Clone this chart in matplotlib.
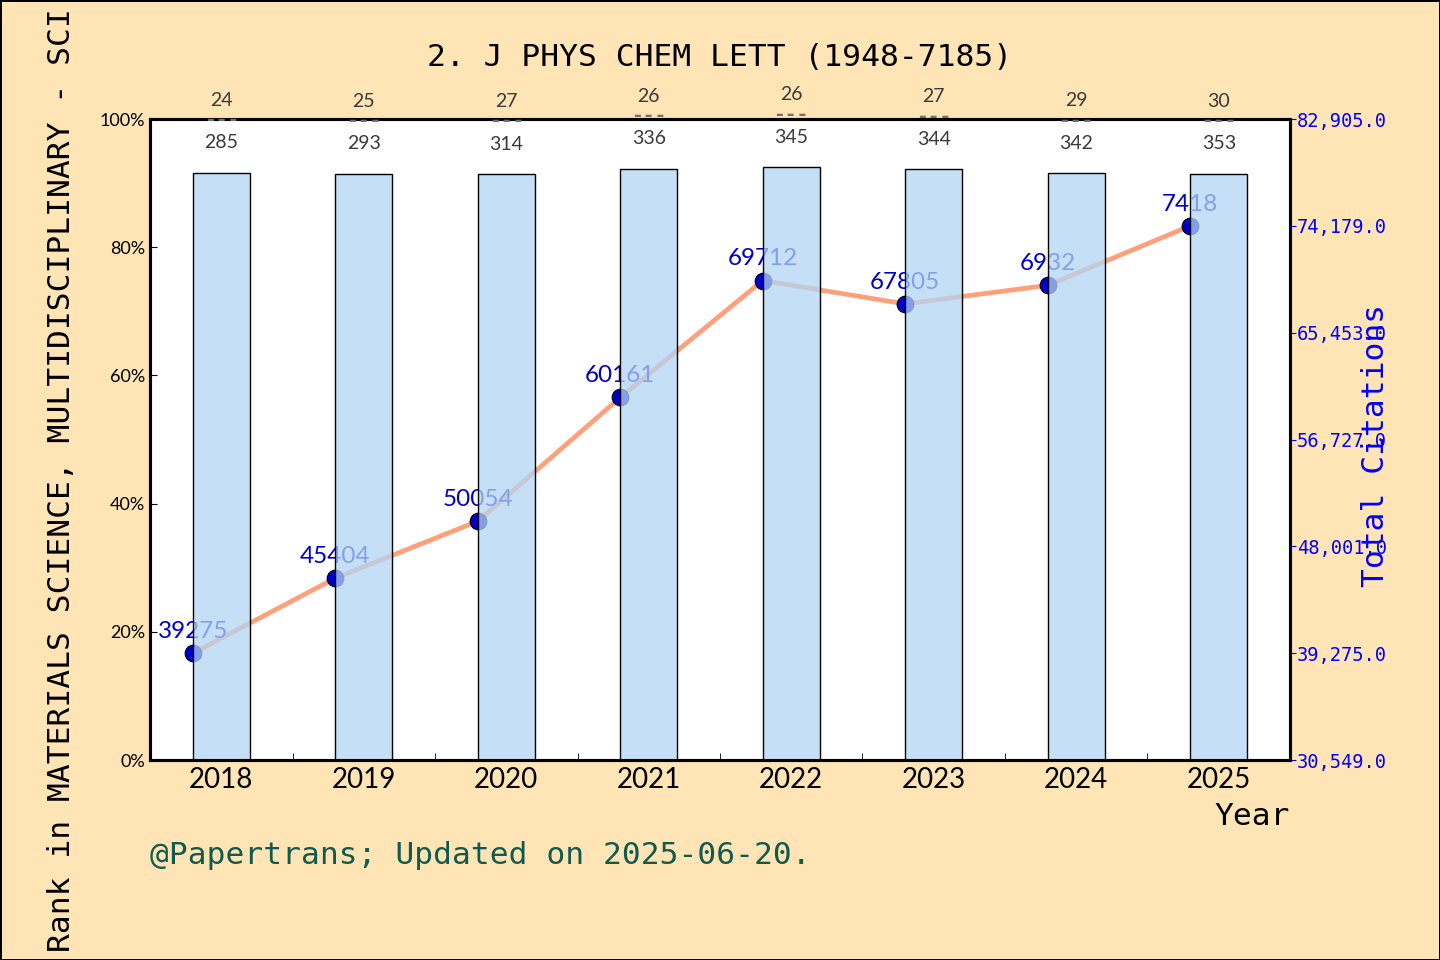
import numpy as np
import matplotlib
matplotlib.use('Agg')
import matplotlib.pyplot as plt
from matplotlib.ticker import FixedLocator, FuncFormatter

# data
years = ['2018', '2019', '2020', '2021', '2022', '2023', '2024', '2025']
rank = [24, 25, 27, 26, 26, 27, 29, 30]
total = [285, 293, 314, 336, 345, 344, 342, 353]
citations = [39275, 45404, 50054, 60161, 69712, 67805, 69320, 74180]
cite_labels = ['39275', '45404', '50054', '60161', '69712', '67805', '6932', '7418']

cite_min, cite_max = 30549, 82905

mono = 'DejaVu Sans Mono'
sans = 'Lato'
bg = '#FFE4B5'

x = np.arange(len(years))
share = [1 - r / t for r, t in zip(rank, total)]

fig = plt.figure(figsize=(14.4, 9.6), dpi=100, facecolor=bg, edgecolor='black', linewidth=2)
ax = fig.add_axes([0.1042, 0.2083, 0.7916, 0.6677])
ax2 = ax.twinx()

# line axis sits below the bar axis
ax.set_zorder(ax2.get_zorder() + 1)
ax.patch.set_visible(False)
ax2.patch.set_visible(True)
ax2.patch.set_facecolor('white')

ax2.plot(x - 0.2, citations, color='#FFA07A', lw=3.4, zorder=2)
ax2.plot(x - 0.2, citations, 'o', ms=12, mfc='#0000CD', mec='black', mew=0.8, zorder=3)
for xi, v, lab in zip(x, citations, cite_labels):
    ax2.annotate(lab, (xi - 0.2, v), xytext=(0, 8), textcoords='offset points',
                 ha='center', va='bottom', color='#0000CD', fontsize=17.5, family=sans)

ax.bar(x, share, width=0.4, color=(178/255, 214/255, 244/255, 0.75), edgecolor='black', lw=1)
for xi, s, r, t in zip(x, share, rank, total):
    ax.text(xi, s + 0.083 + 0.03, str(r), ha='center', va='center', fontsize=14,
            color='#3a3a3a', family=sans, clip_on=False)
    ax.text(xi, s + 0.083, '---', ha='center', va='center', fontsize=14, fontweight='bold',
            color='#707070', family=mono, clip_on=False)
    ax.text(xi, s + 0.083 - 0.036, str(t), ha='center', va='center', fontsize=14,
            color='#3a3a3a', family=sans, clip_on=False)

ax.set_xlim(-0.5, len(years) - 0.5)
ax.set_ylim(0, 1)
ax.set_xticks(x)
ax.set_xticklabels(years, fontsize=20, family=sans)
ax.xaxis.set_minor_locator(FixedLocator(x[:-1] + 0.5))
ax.tick_params(axis='x', which='major', length=0, pad=5)
ax.tick_params(axis='x', which='minor', direction='in', length=5)
ax.set_yticks(np.linspace(0, 1, 6))
ax.yaxis.set_major_formatter(FuncFormatter(lambda v, p: '%d%%' % round(v * 100)))
ax.tick_params(axis='y', direction='in', length=5, labelsize=13)
for lab in ax.get_yticklabels():
    lab.set_family(sans)

ax2.set_ylim(cite_min, cite_max)
ax2.set_yticks(np.linspace(cite_min, cite_max, 7))
ax2.yaxis.set_major_formatter(FuncFormatter(lambda v, p: '{:,.1f}'.format(v)))
ax2.tick_params(axis='y', colors='blue', direction='out', length=4, labelsize=13.5, pad=1)
for lab in ax2.get_yticklabels():
    lab.set_family(mono)

for a in (ax, ax2):
    for sp in a.spines.values():
        sp.set_linewidth(2.2)

fig.text(0.5, 0.94, '2. J PHYS CHEM LETT (1948-7185)', ha='center', va='center',
         fontsize=22.5, family=mono)
fig.text(0.043, 0.5, 'Rank in MATERIALS SCIENCE, MULTIDISCIPLINARY - SCI', rotation=90,
         ha='center', va='center', fontsize=22.5, family=mono)
fig.text(0.955, 0.536, 'Total Citations', rotation=90, ha='center', va='center',
         fontsize=22.5, family=mono, color='blue')
fig.text(0.8958, 0.149, 'Year', ha='right', va='center', fontsize=22.5, family=mono)
fig.text(0.1042, 0.109, '@Papertrans; Updated on 2025-06-20.', ha='left', va='center',
         fontsize=22.5, family=mono, color='#105A50')

plt.savefig('out.png', dpi=100, facecolor=bg, edgecolor='black')
